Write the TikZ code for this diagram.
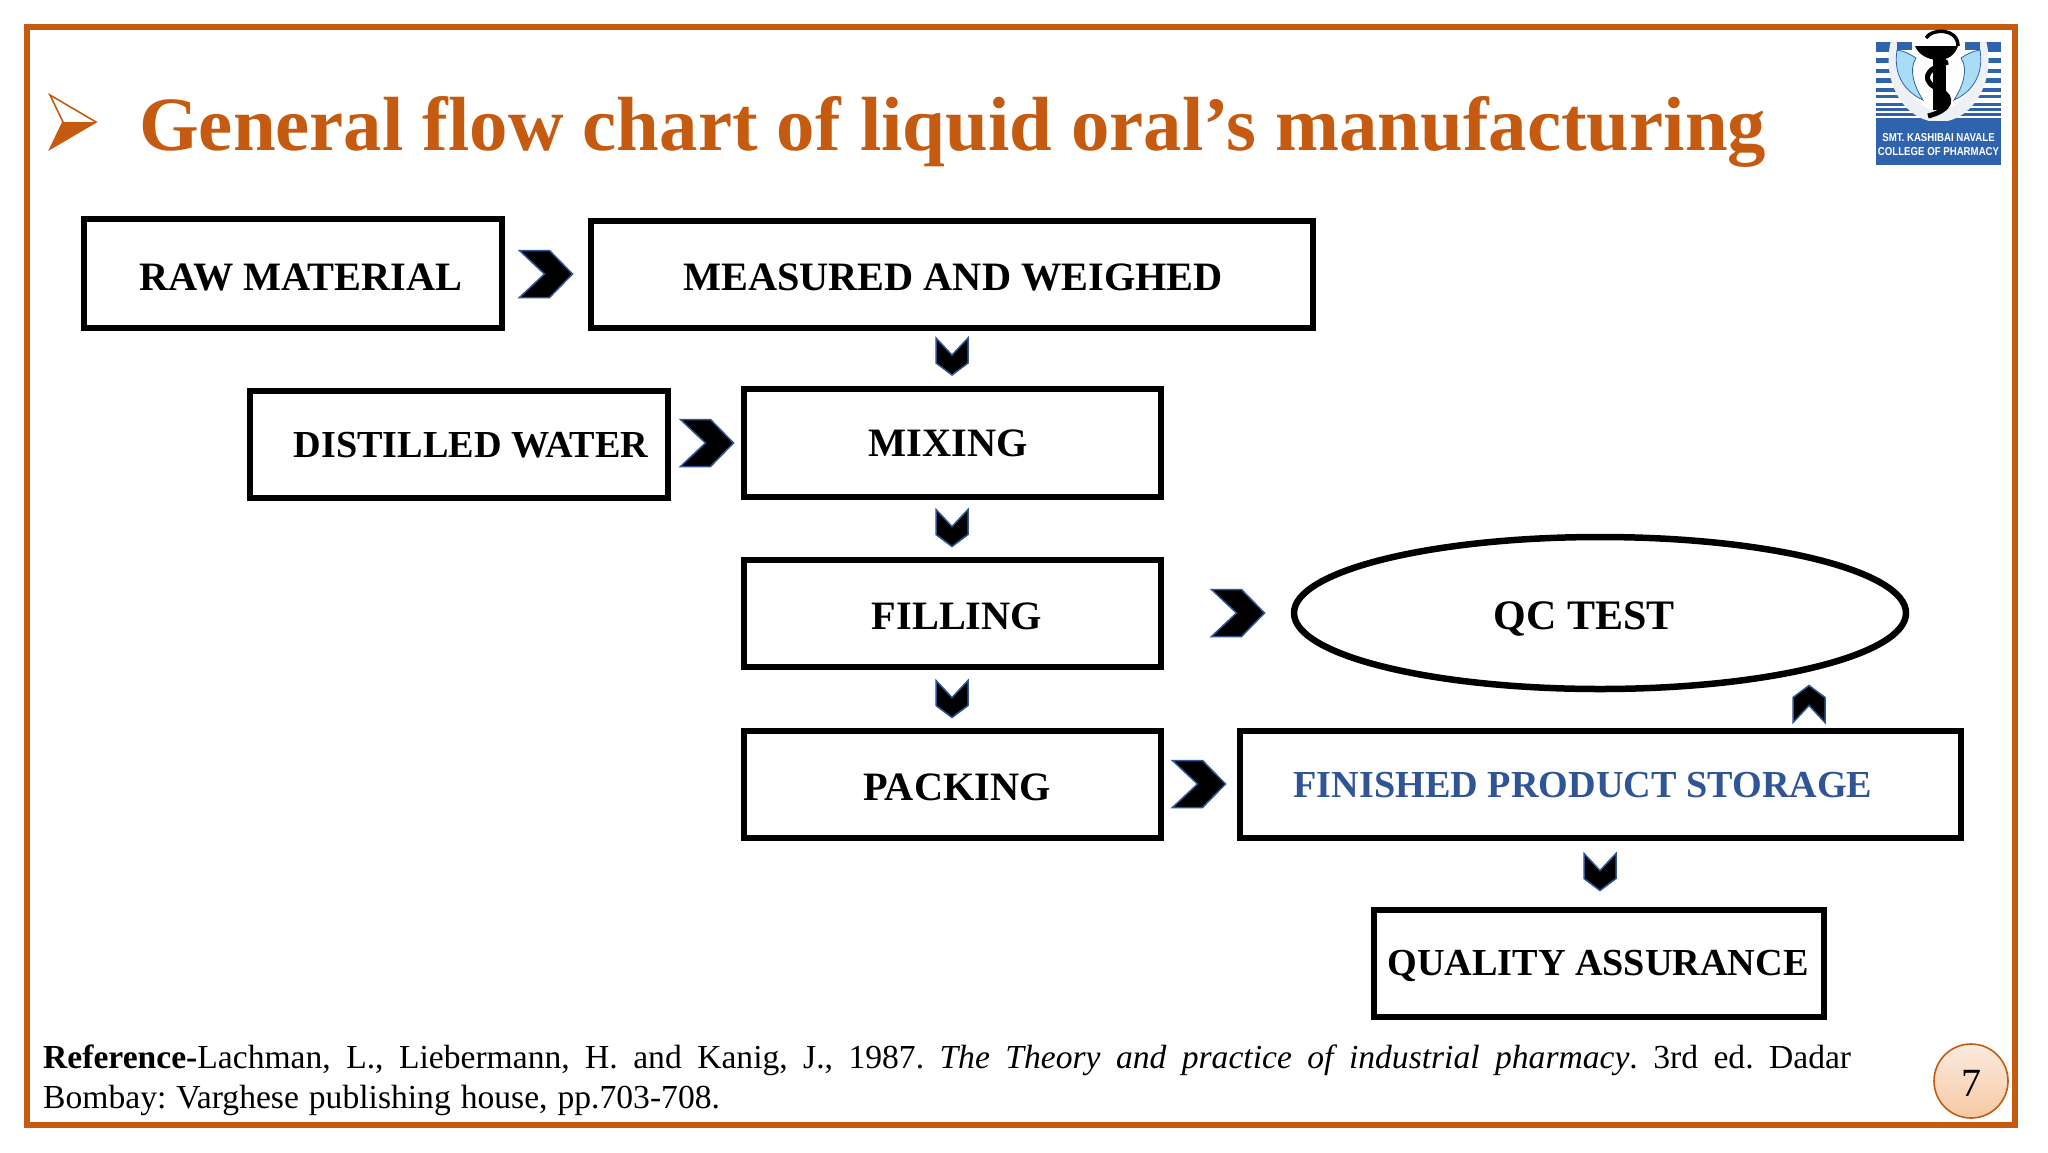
\documentclass[tikz,border=0pt]{standalone}
\usepackage{fontspec}
\setmainfont{Liberation Serif}
\newfontfamily\logofont{Liberation Sans}
\definecolor{rust}{HTML}{C55A11}
\definecolor{chevedge}{HTML}{2F5597}
\definecolor{finblue}{HTML}{2F5597}
\definecolor{logoblue}{HTML}{2F63AE}
\definecolor{logosky}{HTML}{A9DCF5}
\definecolor{logoring}{HTML}{EEF1F4}
\definecolor{pagetop}{HTML}{FBEBDF}
\definecolor{pagebot}{HTML}{F6C8A4}
\tikzset{
  x=1pt,y=-1pt,
  framebox/.style={draw=rust,line width=6pt},
  flowbox/.style={draw=black,line width=6.5pt,fill=white},
  boxtext/.style={font=\fontsize{40.3}{46}\selectfont\bfseries,text=black,inner sep=0pt},
  boxtextsmall/.style={font=\fontsize{38.2}{44}\selectfont\bfseries,text=black,inner sep=0pt},
  chevron/.pic={\path[fill=black,draw=chevedge,line width=1.5pt,line join=miter]
     (-26.5,-23.5)--(3.5,-23.5)--(26.5,0)--(3.5,23.5)--(-26.5,23.5)--(-1.5,0)--cycle;},
  smallchevron/.pic={\path[fill=black,draw=chevedge,line width=1.5pt,line join=miter]
     (-18.5,-16)--(6.5,-16)--(18.5,0)--(6.5,16)--(-18.5,16)--(-1.5,0)--cycle;},
  stripe/.style={fill=logoblue,draw=none},
  wing/.style={fill=logosky,draw=logoblue,line width=.8pt},
}
\begin{document}
\begin{tikzpicture}
\useasboundingbox (0,0) rectangle (2048,1152);
\fill[white] (0,0) rectangle (2048,1152);
\draw[framebox] (27,27) rectangle (2015,1125);

% title
\fill[rust] (50,149)--(96,122)--(63,122)--cycle;
\draw[rust,line width=1.6pt,line join=miter] (63,122)--(50,95)--(96,122)--(50,149)--cycle;
\node[anchor=base west,inner sep=0pt,text=rust,font=\fontsize{76.8}{80}\selectfont\bfseries] (title) at (139,150) {General flow chart of liquid oral’s manufacturing};

% logo
\foreach \yy/\hh in {42/10,58/5,69/4,78/5,88/4,95/3,103/3,108/3,113/3,118/4}{
  \fill[stripe] (1876,\yy) rectangle (2001,\yy+\hh);
}
\begin{scope}
\clip (1876,42) rectangle (2001,121);
\fill[logoring] (1938.5,60) ellipse (50 and 62);
\fill[white] (1938.5,60) ellipse (38 and 50);
\end{scope}
\fill[logoblue] (1876,121) rectangle (2001,165);
\fill[stripe] (1897,42) rectangle (1912,50);
\fill[stripe] (1965,42) rectangle (1980,50);
\fill[wing] (1897,50) .. controls (1893,75) and (1905,92) .. (1923,100) .. controls (1915,88) and (1908,70) .. (1916,58) .. controls (1910,54) and (1904,51) .. (1897,50) -- cycle;
\fill[wing] (1980,50) .. controls (1984,75) and (1972,92) .. (1954,100) .. controls (1962,88) and (1969,70) .. (1961,58) .. controls (1967,54) and (1973,51) .. (1980,50) -- cycle;
\fill[black] (1915,46) .. controls (1919,56) and (1930,60) .. (1938,60) .. controls (1948,60) and (1955,55) .. (1958,46) -- cycle;
\draw[black,line width=3.5pt] (1926,38) .. controls (1932,28) and (1958,28) .. (1958,46);
\fill[black] (1933,58) rectangle (1946,110);
\draw[black,line width=5pt] (1948,62) .. controls (1922,70) and (1922,82) .. (1940,90) .. controls (1954,97) and (1952,110) .. (1928,116);
\node[font=\logofont\fontsize{11.5}{14}\selectfont\bfseries,text=white,align=center,inner sep=0pt,xscale=.84,transform shape] (logotext) at (1938.5,145) {SMT. KASHIBAI NAVALE\\COLLEGE OF PHARMACY};

% boxes
\draw[flowbox] (84,219) rectangle (502,328);
\node[boxtext] (rawt) at (301,277) {RAW MATERIAL};
\draw[flowbox] (591,221) rectangle (1313,328);
\node[boxtext] (meas) at (953,277) {MEASURED AND WEIGHED};
\draw[flowbox] (250,391) rectangle (668,498);
\node[boxtextsmall] (dist) at (471,445.5) {DISTILLED WATER};
\draw[flowbox] (744,389) rectangle (1161,497);
\node[boxtext] (mix) at (948,443) {MIXING};
\draw[flowbox] (744,560) rectangle (1161,667);
\node[boxtext] (fill) at (957,616) {FILLING};
\draw[flowbox] (744,731) rectangle (1161,838);
\node[boxtext] (pack) at (957,787) {PACKING};
\draw[flowbox] (1240,731) rectangle (1961,838);
\node[boxtextsmall,text=finblue] (fin) at (1583,785) {FINISHED PRODUCT STORAGE};
\draw[flowbox] (1374,910) rectangle (1824,1017);
\node[boxtextsmall] (qa) at (1598,966) {QUALITY ASSURANCE};
\draw[draw=black,line width=6.5pt] (1600,613) ellipse (306 and 76);
\node[font=\fontsize{42}{46}\selectfont\bfseries,text=black,inner sep=0pt] (qc) at (1584,619) {QC TEST};

% chevrons
\pic at (546,274) {chevron};
\pic at (707,443) {chevron};
\pic at (1238,613) {chevron};
\pic at (1199,784) {chevron};
\pic[rotate=-90] at (952,356.5) {smallchevron};
\pic[rotate=-90] at (952,528) {smallchevron};
\pic[rotate=-90] at (952,699) {smallchevron};
\pic[rotate=-90] at (1600,872) {smallchevron};
\pic[rotate=90] at (1809,704) {smallchevron};

% reference
\node[anchor=north west,inner sep=0pt,text width=1808pt,font=\fontsize{33.6}{40}\selectfont] (ref) at (43,1045)
 {\frenchspacing\hbox to 1808pt{\spaceskip=8pt plus 1fil\relax\textbf{Reference-}Lachman, L., Liebermann, H. and Kanig, J., 1987. \textit{The Theory and practice of industrial pharmacy}. 3rd ed. Dadar}
 \hbox{\spaceskip=10pt\relax Bombay: Varghese publishing house, pp.703-708.}};

% page number
\shade[top color=pagetop,bottom color=pagebot,draw=rust,line width=1.6pt] (1971,1081) circle (37);
\node[inner sep=0pt,font=\fontsize{40}{44}\selectfont,text=black] (pagenum) at (1971,1083) {7};
\end{tikzpicture}
\end{document}
